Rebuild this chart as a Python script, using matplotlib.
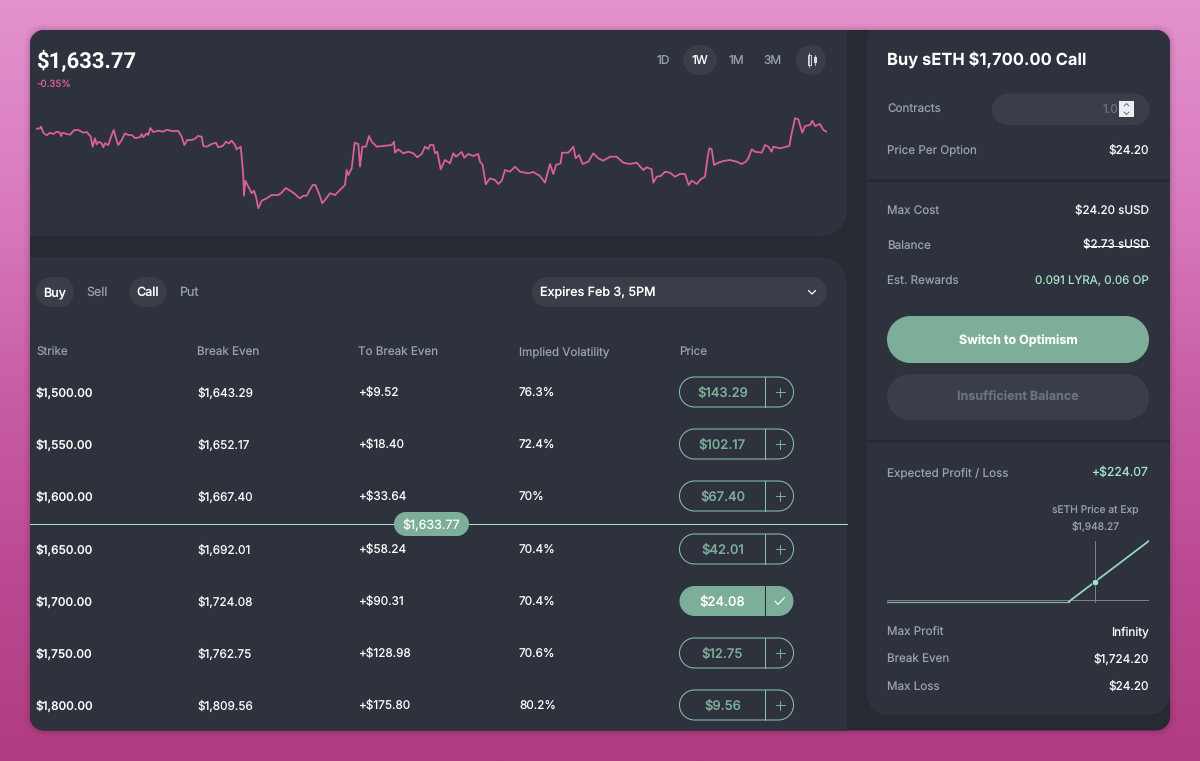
import numpy as np
import matplotlib
matplotlib.use("Agg")
import matplotlib.pyplot as plt
from matplotlib.patches import PathPatch, Circle, Rectangle
from matplotlib.path import Path
from matplotlib.colors import LinearSegmentedColormap

plt.rcParams['font.family'] = ['Inter', 'DejaVu Sans']
plt.rcParams['text.hinting'] = 'no_hinting'
plt.rcParams['text.hinting_factor'] = 1

# ---------- data ----------
price_t = [0.7,4,5,7.3,10.7,14,17.3,20.7,24,25,26.7,30.7,34,38,42.3,47.3,50.7,54.7,56.7,59,60.7,63,65.7,67.3,69,72.3,75,77.7,80,82.3,85.7,89,92.3,95.7,99,104,105.7,107.3,110.7,112.3,114.3,117.3,122.3,127.3,130.7,135.7,142.3,145.7,148.3,151.3,155.7,159.7,161.7,165.7,167.3,170.7,175.7,180,182.3,186.7,190,193,195.7,199,200.7,204.7,206.3,207.3,208,209.3,212.3,215.7,218,220,222.3,225.7,230.7,235.7,242.3,245.7,249.7,255.7,259,261.7,264,267.3,270.7,273.3,276.7,279.3,282.7,286.3,289,294,299,304,309,310.7,312.3,315.7,318.7,322.3,324,326.3,330,333,335.7,340.7,347.3,355.7,358,359,362.3,367.3,372.3,377.3,381.3,385.7,389,392.3,394,397.3,399,401.3,404.7,409,414,417.3,420,425.7,428.3,432.3,437.3,442.3,444,446.7,449.7,454,459,462.3,465.7,469,474,479,484,492.3,497.3,504,509,514,517.3,520,524.7,526,532.3,537.3,539.7,543,546.7,552.3,557.3,562.3,567.3,574,580.7,587.3,594,600.7,607.3,610.7,615.7,617.3,620.7,624.7,629,634,639,644,649,652.7,655.7,660.7,664.7,669,671.7,673.3,675.7,678,682.3,687.3,694,700.7,705.7,710,712.3,715.7,719,725.7,729,732.3,735.7,737.3,744,753.3,755.7,759,762.3,766.3,769,774,776.3,779,784,787.3,790.7]
price_v = [1636.3,1636.7,1638.3,1632.3,1629.7,1632.3,1631,1633.3,1632.3,1629,1632.3,1631,1630.3,1634.7,1635,1632.3,1633,1628.3,1618.3,1626.7,1620.7,1623.3,1621.7,1617.7,1621.7,1620,1628.3,1635,1626.7,1620,1625,1631.7,1630,1630,1627,1627.7,1631,1627.7,1631.7,1630,1637,1633,1634.3,1633.3,1635.3,1634,1634,1628.3,1620,1625,1625,1626.7,1629,1628.3,1619,1618.3,1621,1622.3,1617.7,1619,1623.3,1621.7,1624.3,1620,1615.7,1618.3,1601.7,1588.3,1569.3,1584.3,1578.3,1571.7,1574.3,1568.3,1556.7,1564.3,1566.7,1570,1570,1572.3,1577,1573.3,1571,1568.3,1566.7,1569.3,1569.3,1574.3,1580,1580,1572.3,1561.7,1565,1571.7,1570,1575,1580,1595,1590,1596.7,1622.3,1621,1598.3,1618.3,1618.3,1629,1623.3,1618.3,1619,1620,1623.3,1612.3,1615.7,1611.7,1613.3,1611.7,1607.7,1611,1618.3,1616,1620,1620,1611.7,1613.3,1595.7,1605,1601.7,1611.7,1608.3,1613,1607.3,1611,1609,1611,1603.3,1600,1580.7,1586.7,1585,1581,1584.3,1595,1593.3,1598.3,1593.3,1591.7,1593,1589,1582.3,1601,1591,1600,1601.7,1612.3,1612.3,1618.3,1606.7,1610,1601,1603.3,1611.7,1606.7,1604.3,1608.3,1608.3,1602.3,1601,1602.3,1595,1597.7,1595.7,1582.3,1588.3,1589,1593.3,1592.3,1588.3,1591,1591,1580,1584.3,1581,1585.7,1588.3,1608.3,1616.7,1615.7,1600,1602.3,1604,1605,1603.3,1601,1603.3,1606.7,1615.7,1613.3,1612.3,1620,1618.3,1613.3,1618.3,1616.7,1619,1631.7,1646.7,1645.7,1632.3,1639,1640,1644.3,1639,1641,1635,1633.3]

strikes = ["$1,500.00","$1,550.00","$1,600.00","$1,650.00","$1,700.00","$1,750.00","$1,800.00"]
break_even = ["$1,643.29","$1,652.17","$1,667.40","$1,692.01","$1,724.08","$1,762.75","$1,809.56"]
to_break_even = ["+$9.52","+$18.40","+$33.64","+$58.24","+$90.31","+$128.98","+$175.80"]
implied_vol = ["76.3%","72.4%","70%","70.4%","70.4%","70.6%","80.2%"]
option_price = ["$143.29","$102.17","$67.40","$42.01","$24.08","$12.75","$9.56"]
selected_row = 4
table_headers = ["Strike","Break Even","To Break Even","Implied Volatility","Price"]

payoff_x = [0,1700,2450]
payoff_y = [-24.2,-24.2,725.8]
exp_price = 1948.27
exp_profit = 224.07

# ---------- colours ----------
PANEL = "#2d323c"; FRAME = "#262a32"; PILL = "#393e49"
WHITE = "#ffffff"; GREY = "#98a1ac"; DIM = "#6b7280"
GREEN = "#7dae99"; OUTLINE = "#8cc4ac"; MINT = "#a5e4c8"; PINK = "#d9609a"
PX = 0.72  # one pixel in points

fig = plt.figure(figsize=(12, 7.61), dpi=100)
ax = fig.add_axes([0, 0, 1, 1])
ax.set_xlim(0, 1200); ax.set_ylim(761, 0); ax.axis("off")

# background gradient
cmap = LinearSegmentedColormap.from_list("bg", ["#e392cd", "#da7cc0", "#c95fa7", "#bc4a93", "#af3c80"])
ax.imshow(np.linspace(0, 1, 256)[:, None], extent=(0, 1200, 761, 0), cmap=cmap, aspect="auto", zorder=0)
ax.set_xlim(0, 1200); ax.set_ylim(761, 0)

K = 0.5523
def rr_path(x0, y0, x1, y1, r):
    r = min(r, (x1 - x0) / 2, (y1 - y0) / 2)
    c = r * (1 - K)
    v = [(x0 + r, y0), (x1 - r, y0),
         (x1 - c, y0), (x1, y0 + c), (x1, y0 + r),
         (x1, y1 - r),
         (x1, y1 - c), (x1 - c, y1), (x1 - r, y1),
         (x0 + r, y1),
         (x0 + c, y1), (x0, y1 - c), (x0, y1 - r),
         (x0, y0 + r),
         (x0, y0 + c), (x0 + c, y0), (x0 + r, y0),
         (x0 + r, y0)]
    codes = [Path.MOVETO, Path.LINETO, Path.CURVE4, Path.CURVE4, Path.CURVE4, Path.LINETO,
             Path.CURVE4, Path.CURVE4, Path.CURVE4, Path.LINETO,
             Path.CURVE4, Path.CURVE4, Path.CURVE4, Path.LINETO,
             Path.CURVE4, Path.CURVE4, Path.CURVE4, Path.CLOSEPOLY]
    return Path(v, codes)

def rrect(x0, y0, x1, y1, r, fc="none", ec="none", lw=0, z=2, clip=None, alpha=None):
    p = PathPatch(rr_path(x0, y0, x1, y1, r), fc=fc, ec=ec, lw=lw, zorder=z, alpha=alpha)
    ax.add_patch(p)
    if clip is not None:
        p.set_clip_path(clip)
    return p

def txt(x, y, s, size=9, c=WHITE, ha="left", w="normal", z=6, family=None):
    kw = {"family": family} if family else {}
    return ax.text(x - 0.5, y + 0.8, s, fontsize=size, color=c, ha=ha, va="center", fontweight=w, zorder=z, **kw)

def ln(xs, ys, c=WHITE, lw=PX, z=6):
    ax.plot(xs, ys, color=c, lw=lw, zorder=z, solid_capstyle="round", solid_joinstyle="round")

# soft shadow around the window
for grow, a in [(6, 0.03), (4, 0.04), (2, 0.05), (1, 0.06)]:
    rrect(30 - grow, 30 - grow, 1170 + grow, 730.5 + grow, 14 + grow, fc="#3a1030", z=0.5, alpha=a)

frame = rrect(30, 30, 1170, 730.5, 14, fc=FRAME, z=1)
rrect(0, 0, 847, 236, 26, fc=PANEL, z=2, clip=frame)
rrect(0, 257, 847, 800, 26, fc=PANEL, z=2, clip=frame)
rrect(867, 20, 1170, 714.5, 20, fc=PANEL, z=2, clip=frame)
for y in (180, 441):
    ax.add_patch(Rectangle((867, y - 1.5), 303, 3, fc=FRAME, ec="none", zorder=3))

# price header
txt(36.5, 60.5, "$1,633.77", 15.5, WHITE, w="bold", family="Roboto")
txt(37, 83.5, "-0.35%", 7, PINK)

# range buttons
rrect(683, 45, 717, 75, 15, fc=PILL, z=3)
ax.add_patch(Circle((811, 60), 15, fc=PILL, ec="none", zorder=3))
for x, s, c in [(663.5, "1D", GREY), (700.5, "1W", WHITE), (736.5, "1M", GREY), (773.5, "3M", GREY)]:
    txt(x, 60, s, 8.6, c, ha="center")
ax.add_patch(Rectangle((807.5, 55), 3.5, 9.5, fc="none", ec="#d8dbe0", lw=0.7, zorder=6))
ln([809.3, 809.3], [53, 66.5], "#d8dbe0", 0.6)
ax.add_patch(Rectangle((813.5, 57), 3, 6, fc="#d8dbe0", ec="none", zorder=6))
ln([815, 815], [55, 65], "#d8dbe0", 0.6)

# price line
chart = fig.add_axes([36 / 1200, 1 - 220 / 761, 791 / 1200, 120 / 761])
chart.set_xlim(0, 791); chart.set_ylim(1545, 1665); chart.axis("off")
chart.plot(price_t, price_v, color=PINK, lw=1.3, solid_joinstyle="round")

# table controls
rrect(36, 277, 74, 307, 15, fc=PILL, z=3)
rrect(129, 277, 167, 307, 15, fc=PILL, z=3)
txt(55.5, 292, "Buy", 9, WHITE, ha="center", w="medium")
txt(97.5, 292, "Sell", 9, GREY, ha="center")
txt(148.5, 292, "Call", 9, WHITE, ha="center", w="medium")
txt(189.5, 292, "Put", 9, GREY, ha="center")
rrect(532, 277, 827, 307, 15, fc=PILL, z=3)
txt(540.5, 292, "Expires Feb 3, 5PM", 9, WHITE, w="medium")
ln([808.5, 812, 815.5], [290.5, 294, 290.5], WHITE, 0.9)

# table
col_x = [36.5, 197.5, 358.5, 519.5, 679.5]
for x, s in zip(col_x, table_headers):
    txt(x, 351, s, 8.4, GREY)
row_y = [392, 444, 496, 549, 601, 653, 705]
for i, y in enumerate(row_y):
    txt(col_x[0], y, strikes[i], 8.5, WHITE, w="medium")
    txt(col_x[1], y, break_even[i], 8.5, WHITE)
    txt(col_x[2], y, to_break_even[i], 8.5, WHITE)
    txt(col_x[3], y, implied_vol[i], 8.5, WHITE)
    if i == selected_row:
        rrect(679.5, y - 15, 793.5, y + 15, 15, fc=GREEN, z=3)
        ln([765, 765], [y - 15, y + 15], FRAME, PX)
        txt(723, y, option_price[i], 9.4, WHITE, ha="center", w="medium")
        ln([775, 778, 784.5], [y, y + 3.5, y - 3.5], WHITE, 0.8)
    else:
        rrect(679.5, y - 15, 793.5, y + 15, 15, ec=OUTLINE, lw=PX, z=3)
        ln([765, 765], [y - 15, y + 15], OUTLINE, PX)
        txt(723, y, option_price[i], 9.4, GREEN, ha="center", w="medium")
        ln([775.5, 784.5], [y, y], GREEN, PX)
        ln([780, 780], [y - 4.5, y + 4.5], GREEN, PX)

# spot marker
ax.plot([30, 847], [523.5, 523.5], color=MINT, lw=PX, zorder=5)
rrect(394, 512, 469, 536, 12, fc=GREEN, z=6)
txt(432, 524, "$1,633.77", 9, WHITE, ha="center", z=7)

# right panel
txt(887.5, 60, "Buy sETH $1,700.00 Call", 11.9, WHITE, w="bold")
txt(887.5, 109, "Contracts", 8.4, GREY)
rrect(992, 93.5, 1149.5, 125, 15.7, fc=PILL, z=3)
txt(1118.5, 109, "1.0", 8.6, DIM, ha="right")
ax.add_patch(Rectangle((1119, 101), 15, 16, fc="#eceef2", ec="none", zorder=6))
ln([1124, 1126.5, 1129], [106, 103.5, 106], "#666a72", 0.7, 7)
ln([1124, 1126.5, 1129], [112, 114.5, 112], "#666a72", 0.7, 7)
txt(887.5, 150, "Price Per Option", 8.4, GREY)
txt(1149.5, 150, "$24.20", 8.5, WHITE, ha="right")

txt(887.5, 211, "Max Cost", 8.4, GREY)
txt(1149.5, 211, "$24.20 sUSD", 8.4, WHITE, ha="right")
txt(887.5, 245, "Balance", 8.4, GREY)
txt(1149.5, 245, "$2.73 sUSD", 8.4, WHITE, ha="right")
ln([1084, 1149], [245.5, 245.5], WHITE, PX)
txt(887.5, 280, "Est. Rewards", 8.4, GREY)
txt(1149.5, 280, "0.091 LYRA, 0.06 OP", 8.3, MINT, ha="right")

rrect(887, 316, 1149, 363, 23.5, fc=GREEN, z=3)
txt(1018.5, 340, "Switch to Optimism", 9, WHITE, ha="center", w="bold")
rrect(887, 374, 1149, 420, 23, fc=PILL, z=3)
txt(1018.5, 397, "Insufficient Balance", 9, DIM, ha="center", w="bold")

txt(887.5, 472, "Expected Profit / Loss", 8.4, GREY)
txt(1149.5, 472, "+$224.07", 8.8, MINT, ha="right")
txt(1096, 509, "sETH Price at Exp", 7.4, GREY, ha="center")
txt(1096, 526, "$1,948.27", 7.4, GREY, ha="center")

# payoff chart
pay = fig.add_axes([887 / 1200, 1 - 610 / 761, 262 / 1200, 80 / 761])
pay.set_xlim(0, 2450); pay.set_ylim(-127, 860); pay.axis("off")
pay.axhline(0, color="#7b828c", lw=PX, zorder=1)
pay.plot([exp_price, exp_price], [-24.2, 725.8], color="#7b828c", lw=PX, zorder=1)
pay.plot(payoff_x[:2], payoff_y[:2], color="#86b5a2", lw=0.9, zorder=2)
pay.plot(payoff_x[1:], payoff_y[1:], color="#95d6ba", lw=1.3, zorder=2, solid_capstyle="round")
pay.plot([exp_price], [exp_profit], "o", color=MINT, ms=4.6, mec=PANEL, mew=0.5, zorder=3)

for y, a, b in [(631, "Max Profit", "Infinity"), (658, "Break Even", "$1,724.20"), (686, "Max Loss", "$24.20")]:
    txt(887.5, y, a, 8.4, GREY)
    txt(1149.5, y, b, 8.5, WHITE, ha="right")

fig.savefig("out.png", dpi=100)
